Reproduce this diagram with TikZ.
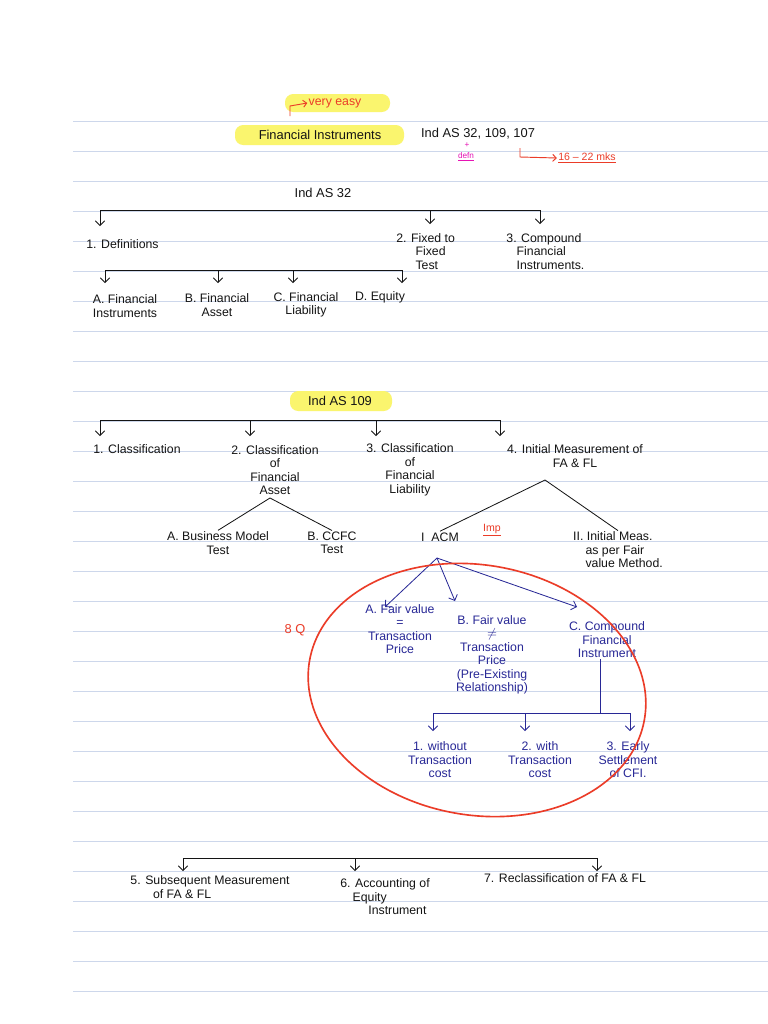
\documentclass[tikz,border=0pt]{standalone}
\usepackage{fontspec}
\setmainfont{Liberation Sans}
\usetikzlibrary{arrows.meta}
\definecolor{ink}{RGB}{20,20,20}
\definecolor{navy}{RGB}{40,40,150}
\definecolor{pen}{RGB}{235,60,40}
\definecolor{hl}{RGB}{250,245,110}
\definecolor{rule}{RGB}{205,215,235}
\definecolor{mag}{RGB}{230,20,180}
\tikzset{
 txt/.style={font=\fontsize{10.5}{11.5}\selectfont,text=ink,align=center,inner sep=1pt},
 btxt/.style={txt,text=navy},
 rtxt/.style={txt,text=pen},
 br/.style={draw=ink,line width=0.7pt},
 ar/.style={br,-{Straight Barb[length=4pt]}},
 bar/.style={draw=navy,line width=0.7pt,-{Straight Barb[length=4pt]}},
 hi/.style={fill=hl,rounded corners=7pt}
}
\begin{document}
\begin{tikzpicture}[x=0.03cm,y=-0.03cm]
\useasboundingbox (0,0) rectangle (768,1024);
\fill[white] (0,0) rectangle (768,1024);
\foreach \y in {121,151,...,1000} \draw[rule,line width=0.5pt] (73,\y) -- (768,\y);
% header
\fill[hi] (285,94) rectangle (390,112);
\node[rtxt] (easy) at (335,103) {very easy};
\coordinate (ea) at (290,116);
\draw[pen,line width=0.8pt,-{Straight Barb[length=3pt]}] (ea) -- (290,106) -- (easy.west);
\fill[hi] (235,125) rectangle (404,145);
\node[txt,font=\fontsize{11}{12}\selectfont] (title) at (320,135) {Financial Instruments};
\node[txt,font=\fontsize{11}{12}\selectfont] (nums) at (478,134) {Ind AS 32, 109, 107};
\node[txt,text=mag,font=\fontsize{7}{8}\selectfont] (plus) at (467,145) {+};
\node[txt,text=mag,font=\fontsize{7}{8}\selectfont] (defn) at (466,157) {\underline{defn}};
\node[rtxt,font=\fontsize{9}{10}\selectfont] (mks) at (587,158) {\underline{16 -- 22 mks}};
\coordinate (ma) at (520,148);
\draw[pen,line width=0.8pt,-{Straight Barb[length=3pt]}] (ma) -- (520,157) -- (mks.west);
% Ind AS 32
\node[txt,font=\fontsize{11}{12}\selectfont] (as32) at (323,193) {Ind AS 32};
\coordinate (l1a) at (100,210); \coordinate (l1b) at (540,210);
\draw[br] (l1a) -- (l1b);
\node[txt,anchor=west] (def) at (85,244) {1. Definitions};
\node[txt,align=left,anchor=north west] (fix) at (395,232) {2. Fixed to\\\quad\ \ Fixed\\\quad\ \ Test};
\node[txt,align=left,anchor=north west] (cfi) at (505,232) {3. Compound\\\ \ \ Financial\\\ \ \ Instruments.};
\draw[ar] (l1a) -- (100,226);
\draw[ar] (430,210) -- (430,224);
\draw[ar] (l1b) -- (540,224);
\coordinate (l2a) at (105,270); \coordinate (l2b) at (402,270);
\draw[br] (l2a) -- (l2b);
\foreach \x in {105,218,293,402} \draw[ar] (\x,270) -- (\x,283);
\node[txt] (fi) at (125,306) {A. Financial\\Instruments};
\node[txt] (fa) at (217,305) {B. Financial\\Asset};
\node[txt] (fl) at (306,305) {C. Financial\\Liability};
\node[txt] (eq) at (380,297) {D. Equity};
% Ind AS 109
\fill[hi] (290,391) rectangle (392,411);
\node[txt,font=\fontsize{11}{12}\selectfont] (as109) at (340,401) {Ind AS 109};
\coordinate (l3a) at (100,420); \coordinate (l3b) at (500,420);
\draw[br] (l3a) -- (l3b);
\foreach \x in {100,250,376,500} \draw[ar] (\x,420) -- (\x,436);
\node[txt] (c1) at (137,449) {1. Classification};
\node[txt] (c2) at (275,470) {2. Classification\\of\\Financial\\Asset};
\node[txt] (c3) at (410,470) {3. Classification\\of\\Financial\\Liability};
\node[txt] (c4) at (575,456) {4. Initial Measurement of\\FA \& FL};
\node[txt] (bm) at (218,543) {A. Business Model\\Test};
\node[txt] (ccfc) at (332,543) {B. CCFC\\Test};
\draw[br] (270,498) -- (bm.north);
\draw[br] (270,498) -- (ccfc.north);
\node[txt] (acm) at (440,537) {I\ \ ACM};
\node[rtxt,font=\fontsize{9}{10}\selectfont] (imp) at (492,530) {\underline{Imp}};
\node[txt,align=left] (meas) at (618,550) {II. Initial Meas.\\\quad as per Fair\\\quad value Method.};
\draw[br] (545,480) -- (acm.north);
\draw[br] (545,480) -- (meas.north);
% ACM branch
\node[btxt] (fva) at (400,629) {A. Fair value\\=\\Transaction\\Price};
\node[btxt] (fvb) at (492,655) {B. Fair value\\$\neq$\\Transaction\\Price\\(Pre-Existing\\Relationship)};
\node[btxt] (cfi2) at (607,640) {C. Compound\\Financial\\Instrument};
\coordinate (root) at (437,558);
\draw[bar] (root) -- (385,607);
\draw[bar] (root) -- (455,601);
\draw[bar] (root) -- (577,607);
\coordinate (cj) at (600,713);
\draw[navy,line width=0.7pt] (cfi2.south -| cj) -- (cj);
\draw[navy,line width=0.7pt] (433,713) -- (630,713);
\foreach \x in {433,525,630} \draw[bar] (\x,713) -- (\x,731);
\node[btxt] (w1) at (440,760) {1. without\\Transaction\\cost};
\node[btxt] (w2) at (540,760) {2. with\\Transaction\\cost};
\node[btxt] (w3) at (628,760) {3. Early\\Settlement\\of CFI.};
\draw[pen,line width=1.4pt,rotate around={-10:(477,690)}] (477,690) ellipse (170 and 125);
\node[rtxt,font=\fontsize{11}{12}\selectfont] (q8) at (295,630) {8 Q};
% bottom
\coordinate (l4a) at (183,858); \coordinate (l4b) at (597,858);
\draw[br] (l4a) -- (l4b);
\foreach \x in {183,355,597} \draw[ar] (\x,858) -- (\x,871);
\node[txt,align=left] (s5) at (210,887) {5. Subsequent Measurement\\\quad\ \ \ of FA \& FL};
\node[txt,align=left] (s6) at (385,897) {6. Accounting of\\\quad Equity\\\qquad\ Instrument};
\node[txt] (s7) at (565,878) {7. Reclassification of FA \& FL};
\end{tikzpicture}
\end{document}
